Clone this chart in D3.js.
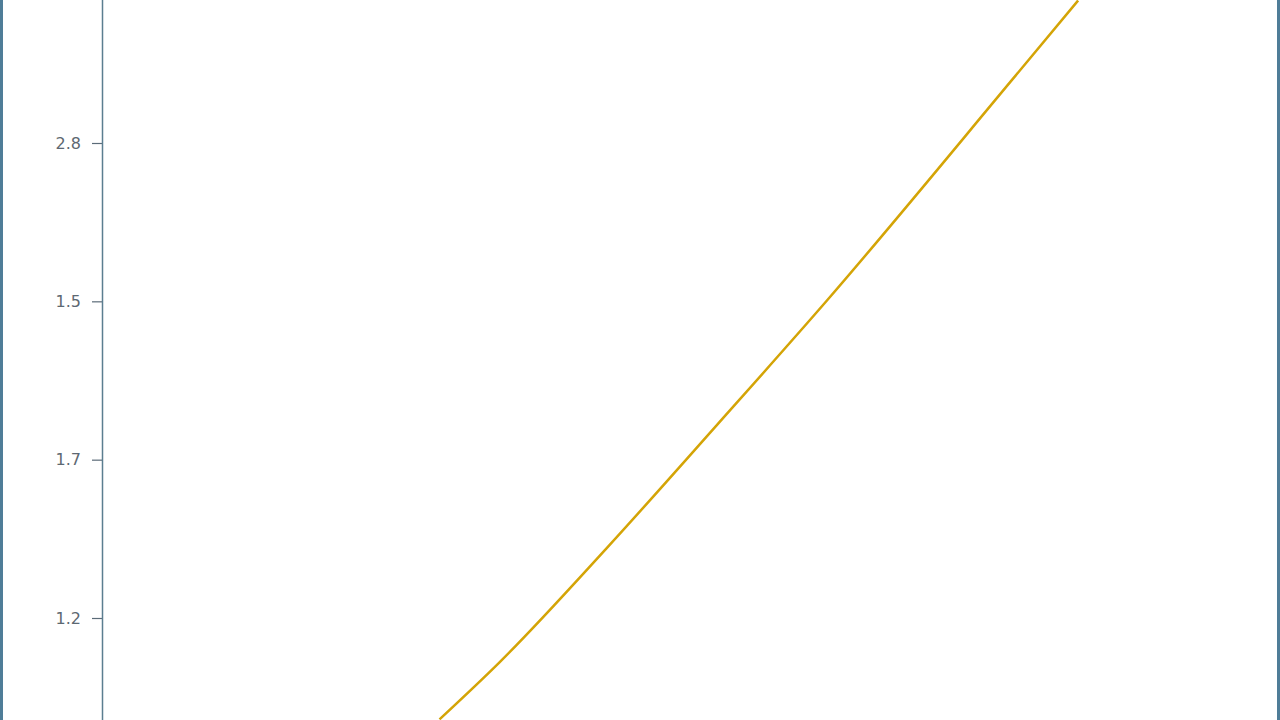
<!DOCTYPE html>
<html>
<head>
<meta charset="utf-8">
<script src="https://cdn.jsdelivr.net/npm/d3@7"></script>
<style>
  html, body { margin: 0; padding: 0; background: #ffffff; }
  svg { display: block; }
</style>
</head>
<body>
<div id="chart"></div>
<script>
// tick labels as they appear on the axis (index 1 is the lowest tick)
var yTickValues = [1, 2, 3, 4];
var yTickLabels = ["1.2", "1.7", "1.5", "2.8"];

// series
var seriesX = [28.7, 33.8, 42.9, 52.3, 61.7, 77.4, 83.0];
var seriesY = [0.36, 0.72, 1.44, 2.22, 3.01, 4.40, 4.90];

var width = 1280, height = 720;
var axisX = 102;

var svg = d3.select("#chart")
  .append("svg")
    .attr("width", width)
    .attr("height", height);

var x = d3.scaleLinear()
  .domain([0, 100])
  .range([axisX, 1278]);

var y = d3.scaleLinear()
  .domain([1, 4])
  .range([618, 143]);

// frame edges
svg.append("line")
  .attr("x1", 1.5).attr("x2", 1.5)
  .attr("y1", 0).attr("y2", height)
  .style("stroke", "#4f7d98")
  .style("stroke-width", 3);
svg.append("line")
  .attr("x1", 1278.5).attr("x2", 1278.5)
  .attr("y1", 0).attr("y2", height)
  .style("stroke", "#4f7d98")
  .style("stroke-width", 3);

// y axis
var yAxis = d3.axisLeft(y)
  .tickValues(yTickValues)
  .tickSize(10)
  .tickPadding(11)
  .tickFormat(function(d, i) { return yTickLabels[i]; });

var gy = svg.append("g")
  .attr("transform", "translate(" + axisX + ",0)")
  .call(yAxis);

gy.select(".domain").remove();
gy.append("line")
  .attr("x1", 0.5).attr("x2", 0.5)
  .attr("y1", 0).attr("y2", height)
  .style("stroke", "#5b7e90")
  .style("stroke-width", 1.5);
gy.selectAll(".tick line")
  .style("stroke", "#5b6b78")
  .style("stroke-width", 1.2);
gy.selectAll(".tick text")
  .style("font-family", "DejaVu Sans")
  .style("font-size", "16px")
  .style("fill", "#5d6872");

// the line
var points = seriesX.map(function(d, i) { return [d, seriesY[i]]; });
var line = d3.line()
  .x(function(d) { return x(d[0]); })
  .y(function(d) { return y(d[1]); })
  .curve(d3.curveMonotoneX);

svg.append("path")
  .datum(points)
  .attr("d", line)
  .style("fill", "none")
  .style("stroke", "#d4a406")
  .style("stroke-width", 2.5);
</script>
</body>
</html>
